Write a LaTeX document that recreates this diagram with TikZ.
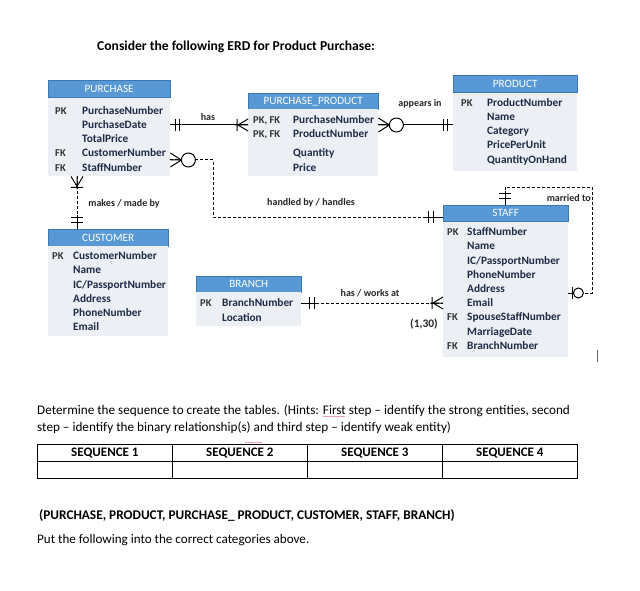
\documentclass[tikz,border=0pt]{standalone}
\usepackage{fontspec}
\setmainfont{Carlito}
\usetikzlibrary{calc}
\definecolor{hdrblue}{RGB}{88,152,212}
\definecolor{hdredge}{RGB}{62,120,180}
\definecolor{bodygray}{RGB}{236,239,244}
\definecolor{attrcol}{RGB}{30,42,70}
\definecolor{keycol}{RGB}{50,50,55}
\definecolor{pinkmark}{RGB}{230,160,195}
\begin{document}
\begin{tikzpicture}[x=1pt,y=-1pt,
  hdr/.style={draw=hdredge, line width=0.4pt, fill=hdrblue, text=white, inner sep=0pt, anchor=north west, font=\fontsize{11.2}{12}\selectfont},
  ebody/.style={fill=bodygray, draw=none, inner sep=0pt, anchor=north west},
  attr/.style={anchor=base west, yshift=-3.8pt, inner sep=0pt, text=attrcol, font=\bfseries\fontsize{11.3}{12}\selectfont},
  keyl/.style={anchor=base west, yshift=-3.8pt, inner sep=0pt, text=keycol, font=\bfseries\fontsize{10.5}{12}\selectfont},
  rlabel/.style={inner sep=0pt, text=black!85, font=\bfseries\fontsize{10}{11}\selectfont},
  rel/.style={line width=1pt, black},
  reld/.style={line width=1pt, black, dash pattern=on 3pt off 2pt},
  qtext/.style={anchor=base west, inner sep=0pt, font=\fontsize{13.2}{15}\selectfont},
  cell/.style={draw, line width=0.8pt, anchor=north west, minimum width=135pt, minimum height=17pt, inner sep=0pt, font=\bfseries\fontsize{13}{14}\selectfont},
  pics/mone/.style 2 args={code={\draw[rel] (0,0)--(#2+2,0) (#1,-6)--(#1,6) (#2,-6)--(#2,6);}},
  pics/onemany/.style={code={\draw[rel] (0,-6)--(10,0)--(0,6) (0,0)--(13,0) (11,-6)--(11,6);}},
  pics/zeromany/.style={code={\draw[rel] (0,-7)--(11,0)--(0,7) (0,0)--(11,0); \draw[rel, fill=white] (18,0) circle[radius=7pt];}},
  pics/zeroone/.style={code={\draw[rel] (0,0)--(4,0) (4,-6)--(4,6); \draw[rel, fill=white] (10,0) circle[radius=5pt];}}
]
\useasboundingbox (0,0) rectangle (640,591);
\fill[white] (0,0) rectangle (640,591);

% title
\node[anchor=base west, inner sep=0pt, font=\bfseries\fontsize{13.6}{15}\selectfont] (title) at (97,51) {Consider the following ERD for Product Purchase:};

% PURCHASE
\node[hdr, minimum width=122pt, minimum height=17pt] (purH) at (48,80) {PURCHASE};
\node[ebody, minimum width=122pt, minimum height=78pt] (purB) at (48,98) {};
\node[keyl] (purK1) at (55,111) {PK};
\node[keyl] (purK4) at (55,153) {FK};
\node[keyl] (purK5) at (55,168) {FK};
\node[attr] (purA1) at (82,111) {PurchaseNumber};
\node[attr] (purA2) at (82,125) {PurchaseDate};
\node[attr] (purA3) at (82,139) {TotalPrice};
\node[attr] (purA4) at (82,153) {CustomerNumber};
\node[attr] (purA5) at (82,168) {StaffNumber};

% PURCHASE_PRODUCT
\node[hdr, minimum width=130pt, minimum height=16pt] (ppH) at (248,93) {PURCHASE\_PRODUCT};
\node[ebody, minimum width=130pt, minimum height=67pt] (ppB) at (248,109) {};
\node[keyl] (ppK1) at (253,120) {PK, FK};
\node[keyl] (ppK2) at (253,134) {PK, FK};
\node[attr] (ppA1) at (293,120) {PurchaseNumber};
\node[attr] (ppA2) at (293,134) {ProductNumber};
\node[attr] (ppA3) at (293,153) {Quantity};
\node[attr] (ppA4) at (293,168) {Price};

% PRODUCT
\node[hdr, minimum width=124pt, minimum height=17pt] (prH) at (453,75) {PRODUCT};
\node[ebody, minimum width=124pt, minimum height=78pt] (prB) at (453,93) {};
\node[keyl] (prK1) at (461,103) {PK};
\node[attr] (prA1) at (487,103) {ProductNumber};
\node[attr] (prA2) at (487,117) {Name};
\node[attr] (prA3) at (487,131) {Category};
\node[attr] (prA4) at (487,145) {PricePerUnit};
\node[attr] (prA5) at (487,160) {QuantityOnHand};

% STAFF
\node[hdr, minimum width=125pt, minimum height=16pt] (stH) at (443,205) {STAFF};
\node[ebody, minimum width=125pt, minimum height=135pt] (stB) at (443,222) {};
\node[keyl] (stK1) at (447,232) {PK};
\node[keyl] (stK7) at (447,317) {FK};
\node[keyl] (stK9) at (447,346) {FK};
\node[attr] (stA1) at (467,232) {StaffNumber};
\node[attr] (stA2) at (467,246) {Name};
\node[attr] (stA3) at (467,261) {IC/PassportNumber};
\node[attr] (stA4) at (467,275) {PhoneNumber};
\node[attr] (stA5) at (467,289) {Address};
\node[attr] (stA6) at (467,303) {Email};
\node[attr] (stA7) at (467,317) {SpouseStaffNumber};
\node[attr] (stA8) at (467,332) {MarriageDate};
\node[attr] (stA9) at (467,346) {BranchNumber};

% CUSTOMER
\node[hdr, minimum width=120pt, minimum height=17pt] (cuH) at (48,229) {CUSTOMER};
\node[ebody, minimum width=120pt, minimum height=90pt] (cuB) at (48,246) {};
\node[keyl] (cuK1) at (52,256) {PK};
\node[attr] (cuA1) at (73,256) {CustomerNumber};
\node[attr] (cuA2) at (73,270) {Name};
\node[attr] (cuA3) at (73,285) {IC/PassportNumber};
\node[attr] (cuA4) at (73,299) {Address};
\node[attr] (cuA5) at (73,313) {PhoneNumber};
\node[attr] (cuA6) at (73,327) {Email};

% BRANCH
\node[hdr, minimum width=105pt, minimum height=16pt] (brH) at (196,276) {BRANCH};
\node[ebody, minimum width=105pt, minimum height=34pt] (brB) at (196,292) {};
\node[keyl] (brK1) at (200,303) {PK};
\node[attr] (brA1) at (222,303) {BranchNumber};
\node[attr] (brA2) at (222,318) {Location};

% connectors
\draw[rel] ([yshift=-27pt]purB.north east) -- ([yshift=-16pt]ppB.north west);
\draw[rel] ([yshift=-16pt]ppB.north east) -- ([yshift=-32pt]prB.north west);
\draw[reld] ([yshift=-62pt]purB.north east) -- ++(43,0) |- ([yshift=-12pt]stH.north west);
\draw[reld] ([xshift=29pt]purB.south west) -- ([xshift=29pt]cuH.north west);
\draw[reld] ([xshift=62pt]stH.north west) -- ++(0,-18) -- ++(87,0) |- ([yshift=-71pt]stB.north east);
\draw[reld] ([yshift=-11pt]brB.north east) -- ([yshift=-81pt]stB.north west);

% cardinality markers
\pic at ([yshift=-27pt]purB.north east) {mone={5}{9}};
\pic[rotate=180] at ([yshift=-16pt]ppB.north west) {onemany};
\pic at ([yshift=-16pt]ppB.north east) {zeromany};
\pic[rotate=180] at ([yshift=-32pt]prB.north west) {mone={6}{10}};
\pic at ([yshift=-62pt]purB.north east) {zeromany};
\pic[rotate=180] at ([yshift=-12pt]stH.north west) {mone={10}{15}};
\pic[rotate=-90] at ([xshift=29pt]purB.south west) {onemany};
\pic[rotate=90] at ([xshift=29pt]cuH.north west) {mone={7}{12}};
\pic[rotate=90] at ([xshift=62pt]stH.north west) {mone={7}{12}};
\pic at ([yshift=-71pt]stB.north east) {zeroone};
\pic at ([yshift=-11pt]brB.north east) {mone={8}{13}};
\pic[rotate=180] at ([yshift=-81pt]stB.north west) {onemany};

% relationship labels
\node[rlabel] (lhas) at (208,117) {has};
\node[rlabel] (lapp) at (420,104) {appears in};
\node[rlabel] (lmake) at (124,204) {makes / made by};
\node[rlabel] (lhand) at (311,203) {handled by / handles};
\node[rlabel, anchor=east] (lmar) at (591,198) {married to};
\node[rlabel] (lworks) at (370,293) {has / works at};
\node[rlabel, font=\bfseries\fontsize{11.5}{12}\selectfont] (lcard) at (424,324) {(1,30)};

% stray mark
\draw[black!60, line width=0.7pt] (597,350) -- (597,362);

% question
\node[qtext] (q1) at (37,414) {Determine the sequence to create the tables. (Hints: \rlap{\color{pinkmark}\rule[-3pt]{22pt}{0.8pt}}First step – identify the strong entities, second};
\node[qtext] (q2) at (37,431) {step – identify the binary relationship(s) and third step – identify weak entity)};
\draw[pinkmark, line width=0.8pt] (245,442) -- (262,442);

% table
\node[cell] (s1) at (37,444) {SEQUENCE 1};
\node[cell] (s2) at (172,444) {SEQUENCE 2};
\node[cell] (s3) at (307,444) {SEQUENCE 3};
\node[cell] (s4) at (442,444) {SEQUENCE 4};
\node[cell] (e1) at (37,461) {};
\node[cell] (e2) at (172,461) {};
\node[cell] (e3) at (307,461) {};
\node[cell] (e4) at (442,461) {};

\node[anchor=base west, inner sep=0pt, font=\bfseries\fontsize{13.3}{15}\selectfont] (list) at (39,519) {(PURCHASE, PRODUCT, PURCHASE\_ PRODUCT, CUSTOMER, STAFF, BRANCH)};
\node[anchor=base west, inner sep=0pt, font=\fontsize{13.1}{15}\selectfont] (put) at (37,543) {Put the following into the correct categories above.};
\end{tikzpicture}
\end{document}
